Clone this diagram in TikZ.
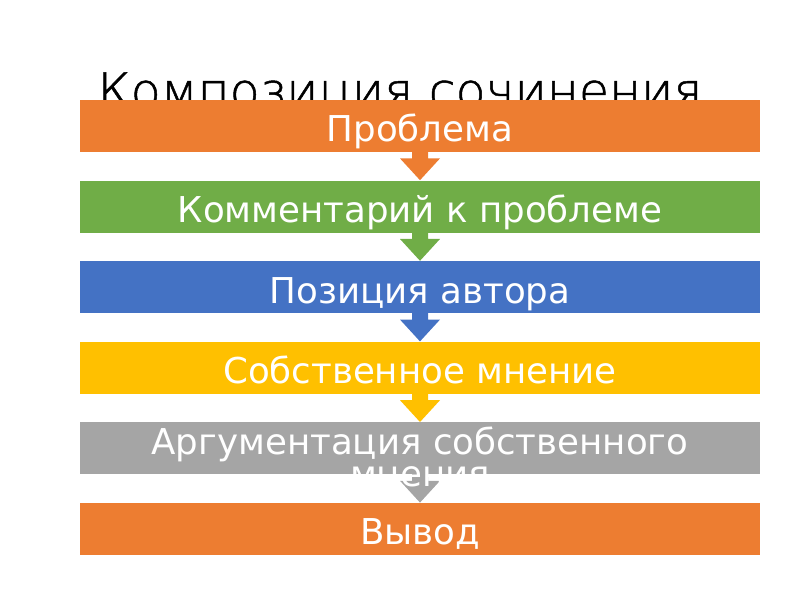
\documentclass[tikz,border=0pt]{standalone}
\usepackage{fontspec}
\setmainfont{DejaVu Sans}
\newfontfamily\titlefont{DejaVu Sans ExtraLight}[FakeBold=1]
\usepackage{tikz}
\usetikzlibrary{positioning, calc, backgrounds}

\definecolor{barorange}{HTML}{ED7D31}
\definecolor{bargreen}{HTML}{70AD47}
\definecolor{barblue}{HTML}{4472C4}
\definecolor{bargold}{HTML}{FFC000}
\definecolor{bargrey}{HTML}{A5A5A5}

\tikzset{
  bar/.style = {minimum width=340pt, minimum height=26pt, inner sep=0pt},
  bartext/.style = {text=white, font=\fontsize{17.8}{16}\selectfont, inner sep=0pt, align=center, anchor=base},
}

\begin{document}
\begin{tikzpicture}[x=0.5pt, y=0.5pt]
\useasboundingbox (0,0) rectangle (800,600);
\node[anchor=base, font=\titlefont\fontsize{24.5}{26}\selectfont] (title) at (400,492) {Композиция сочинения};
% bars
\node[bar, fill=barorange] (b1) at (420,474) {};
\node[bar, fill=bargreen, below = 13.9pt of b1] (b2) {};
\node[bar, fill=barblue, below = 13.9pt of b2] (b3) {};
\node[bar, fill=bargold, below = 13.9pt of b3] (b4) {};
\node[bar, fill=bargrey, below = 13.9pt of b4] (b5) {};
\node[bar, fill=barorange, below = 13.9pt of b5] (b6) {};
% arrows between the bars
\begin{scope}[on background layer]
\foreach \a/\b/\c in {b1/b2/barorange, b2/b3/bargreen, b3/b4/barblue, b4/b5/bargold, b5/b6/bargrey}
  \fill[\c] ($(\a.south)+(-4pt,1pt)$) -- ($(\a.south)+(4pt,1pt)$) -- ($(\a.south)+(4pt,-3pt)$)
    -- ($(\a.south)+(10pt,-3pt)$) -- (\b.north) -- ($(\a.south)+(-10pt,-3pt)$)
    -- ($(\a.south)+(-4pt,-3pt)$) -- cycle;
\end{scope}
% texts
\node[bartext] (t1) at ($(b1)+(0,-16)$) {Проблема};
\node[bartext] (t2) at ($(b2)+(0,-16)$) {Комментарий к проблеме};
\node[bartext] (t3) at ($(b3)+(0,-16)$) {Позиция автора};
\node[bartext] (t4) at ($(b4)+(0,-16)$) {Собственное мнение};
\node[bartext] (t5) at ($(b5)+(0,-38)$) {Аргументация собственного\\мнения};
\node[bartext] (t6) at ($(b6)+(0,-16)$) {Вывод};
\end{tikzpicture}
\end{document}
